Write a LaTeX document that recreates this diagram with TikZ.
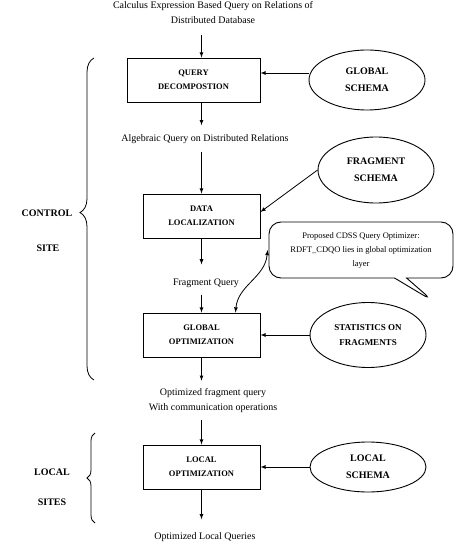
\documentclass[tikz,border=0pt]{standalone}
\usepackage{fontspec}
\setmainfont{Liberation Serif}
\usetikzlibrary{positioning,shapes.geometric,shapes.callouts,decorations.pathreplacing}

\tikzset{
  stepbox/.style={rectangle, draw, line width=0.9pt, minimum width=117pt, minimum height=44pt, align=center, font=\fontsize{8.5}{14}\selectfont\bfseries},
  schema/.style={ellipse, draw, line width=0.9pt, minimum width=116pt, align=center, font=\fontsize{10}{17}\selectfont\bfseries},
  plain/.style={align=center, inner sep=1pt, font=\fontsize{10}{15}\selectfont},
  sitelabel/.style={font=\fontsize{10}{12}\selectfont\bfseries},
  flow/.style={->, line width=0.8pt},
  sitebrace/.style={decorate, line width=0.8pt}
}

\begin{document}
\begin{tikzpicture}[x=1pt,y=1pt,>=latex,on grid,node distance=120pt]
	\useasboundingbox (0,0) rectangle (474,-556);
		% processing column
		\node[stepbox]	(dl)	at (201.5,-216)			{DATA\\LOCALIZATION};
		\node[stepbox, minimum width=133pt]	(qd)	[above=136pt of dl, xshift=-8pt]	{QUERY\\DECOMPOSTION};
		\node[stepbox]	(go)	[below=119pt of dl]		{GLOBAL\\OPTIMIZATION};
		\node[stepbox]	(lo)	[below=132pt of go]		{LOCAL\\OPTIMIZATION};
		% intermediate queries
		\node[plain]	(calc)	at (213,-13)	{Calculus Expression Based Query on Relations of\\Distributed Database};
		\node[plain]	(alg)	at (205,-139)	{Algebraic Query on Distributed Relations};
		\node[plain]	(fq)	at (206,-283)	{Fragment Query};
		\node[plain]	(ofq)	at (213,-401)	{Optimized fragment query\\With communication operations};
		\node[plain]	(olq)	at (205,-537)	{Optimized Local Queries};
		% schemas
		\node[schema, minimum height=60pt]	(gs)	[right=173.5pt of qd]	{GLOBAL\\SCHEMA};
		\node[schema, minimum height=66pt]	(fs)	at (376,-170)	{FRAGMENT\\SCHEMA};
		\node[schema, minimum height=65pt, font=\fontsize{9}{15}\selectfont\bfseries]	(ss)	[right=166.5pt of go]	{STATISTICS ON\\FRAGMENTS};
		\node[schema, minimum height=50pt]	(ls)	[right=166.5pt of lo]	{LOCAL\\SCHEMA};
		\node[rectangle callout, draw, line width=0.9pt, rounded corners=12pt, minimum width=184pt, minimum height=56pt,
			callout absolute pointer={(433,-301)}, callout pointer width=12pt, align=center,
			font=\fontsize{8.5}{14}\selectfont]	(cdss)	at (361,-250)
			{Proposed CDSS Query Optimizer:\\RDFT\_CDQO lies in global optimization\\layer};
		% site labels
		\node[sitelabel]	(ctl)	at (47,-213)	{CONTROL};
		\node[sitelabel]	(site)	at (48,-248)	{SITE};
		\node[sitelabel]	(loc)	at (52,-472)	{LOCAL};
		\node[sitelabel]	(sites)	at (52,-502)	{SITES};

		\draw[flow, shorten <=10pt]	(calc.south -| dl)	--	(qd.north -| dl);
		\draw[flow, shorten >=8pt]	(qd.south -| dl)	--	(alg.north -| dl);
		\draw[flow, shorten <=7pt]	(alg.south -| dl)	--	(dl.north);
		\draw[flow, shorten >=13pt]	(dl.south)	--	(fq.north -| dl);
		\draw[flow, shorten <=6pt]	(fq.south -| dl)	--	(go.north);
		\draw[flow, shorten >=7pt]	(go.south)	--	(ofq.north -| go);
		\draw[flow, shorten <=6pt]	(ofq.south -| lo)	--	(lo.north);
		\draw[flow, shorten >=12pt]	(lo.south)	--	(olq.north -| lo);

		\draw[flow]	([yshift=7pt]gs.west)	--	([yshift=7pt]gs.west -| qd.east);
		\draw[flow]	(fs.west)	--	([yshift=4pt]dl.east);
		\draw[flow]	(ss.west)	--	(go.east);
		\draw[flow]	(ls.west)	--	(lo.east);
		\draw[<->, line width=0.8pt]	([xshift=-1pt]cdss.west)	to[out=-95,in=85]	([xshift=34pt]go.north);

		\draw[sitebrace, decoration={brace, amplitude=14pt, aspect=0.52}]	(94,-380)	--	(94,-58);
		\draw[sitebrace, decoration={brace, amplitude=8pt}]	(95,-523)	--	(95,-433);
	\end{tikzpicture}
\end{document}
